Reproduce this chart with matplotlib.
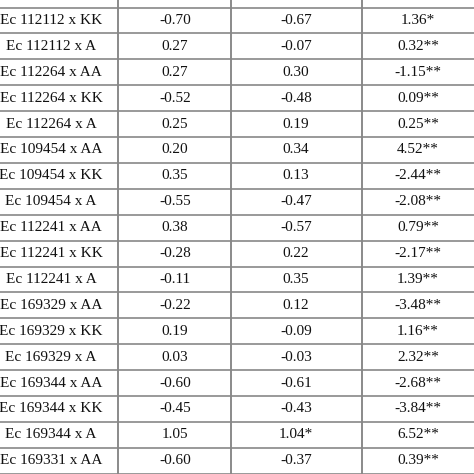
import matplotlib.pyplot as plt

crosses = ['Ec 112112 x KK', 'Ec 112112 x A', 'Ec 112264 x AA', 'Ec 112264 x KK',
           'Ec 112264 x A', 'Ec 109454 x AA', 'Ec 109454 x KK', 'Ec 109454 x A',
           'Ec 112241 x AA', 'Ec 112241 x KK', 'Ec 112241 x A', 'Ec 169329 x AA',
           'Ec 169329 x KK', 'Ec 169329 x A', 'Ec 169344 x AA', 'Ec 169344 x KK',
           'Ec 169344 x A', 'Ec 169331 x AA']
col2 = ['-0.70', '0.27', '0.27', '-0.52', '0.25', '0.20', '0.35', '-0.55', '0.38',
        '-0.28', '-0.11', '-0.22', '0.19', '0.03', '-0.60', '-0.45', '1.05', '-0.60']
col3 = ['-0.67', '-0.07', '0.30', '-0.48', '0.19', '0.34', '0.13', '-0.47', '-0.57',
        '0.22', '0.35', '0.12', '-0.09', '-0.03', '-0.61', '-0.43', '1.04*', '-0.37']
col4 = ['1.36*', '0.32**', '-1.15**', '0.09**', '0.25**', '4.52**', '-2.44**', '-2.08**',
        '0.79**', '-2.17**', '1.39**', '-3.48**', '1.16**', '2.32**', '-2.68**', '-3.84**',
        '6.52**', '0.39**']

fig = plt.figure(figsize=(4.74, 4.74), dpi=100)
ax = fig.add_axes([0, 0, 1, 1])
ax.set_xlim(0, 474)
ax.set_ylim(474, 0)
ax.axis('off')

row_h = 25.9
first_line = 7.5
col_x = [51, 175, 296, 418]
for x in [118, 231, 362]:
    ax.axvline(x, color='#777777', lw=1.2)
for k in range(len(crosses) + 1):
    ax.axhline(first_line + k * row_h, color='#888888', lw=1.2)

for i, row in enumerate(zip(crosses, col2, col3, col4)):
    y = first_line + (i + 0.5) * row_h
    for x, txt in zip(col_x, row):
        ax.text(x, y, txt, ha='center', va='center', fontsize=11,
                family='Liberation Serif', color='#111111')

fig.savefig('out.png', dpi=100)
